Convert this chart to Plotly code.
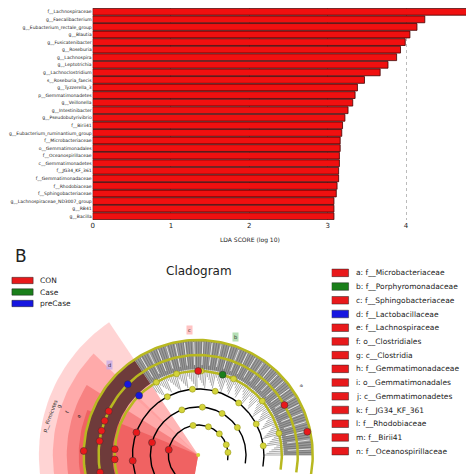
import numpy as np
import plotly.graph_objects as go

# ---- panel A data: LDA scores ----
taxa = ["f__Lachnospiraceae", "g__Faecalibacterium", "g__Eubacterium_rectale_group", "g__Blautia",
        "g__Fusicatenibacter", "g__Roseburia", "g__Lachnospira", "g__Leptotrichia",
        "g__Lachnoclostridium", "s__Roseburia_faecis", "g__Tyzzerella_3", "p__Gemmatimonadetes",
        "g__Veillonella", "g__Intestinibacter", "g__Pseudobutyrivibrio", "f__Birii41",
        "g__Eubacterium_ruminantium_group", "f__Microbacteriaceae", "o__Gemmatimonadales",
        "f__Oceanospirillaceae", "c__Gemmatimonadetes", "f__JG34_KF_361", "f__Gemmatimonadaceae",
        "f__Rhodobiaceae", "f__Sphingobacteriaceae", "g__Lachnospiraceae_ND3007_group",
        "g__RB41", "g__Bacilla"]
lda = [4.87, 4.24, 4.14, 4.05, 3.99, 3.93, 3.88, 3.77, 3.67, 3.47, 3.38, 3.35, 3.32, 3.26,
       3.22, 3.19, 3.18, 3.16, 3.16, 3.15, 3.15, 3.14, 3.14, 3.12, 3.11, 3.08, 3.08, 3.08]

# ---- panel B data: cladogram ----
group_names = ["CON", "Case", "preCase"]
group_colors = ["#e8191b", "#1a7f1a", "#1616e0"]
clade_labels = ["a: f__Microbacteriaceae", "b: f__Porphyromonadaceae", "c: f__Sphingobacteriaceae",
                "d: f__Lactobacillaceae", "e: f__Lachnospiraceae", "f: o__Clostridiales",
                "g: c__Clostridia", "h: f__Gemmatimonadaceae", "i: o__Gemmatimonadales",
                "j: c__Gemmatimonadetes", "k: f__JG34_KF_361", "l: f__Rhodobiaceae",
                "m: f__Birii41", "n: f__Oceanospirillaceae"]
clade_groups = ["CON", "Case", "CON", "preCase", "CON", "CON", "CON", "CON", "CON", "CON",
                "CON", "CON", "CON", "CON"]
ring_radii = [30, 48, 66, 84, 100, 115]
# shaded sectors: start angle, end angle, outer radius, rgba
sector_start = [124, 136, 148, 158, 124]
sector_end = [260, 260, 260, 260, 138]
sector_r = [160, 146, 132, 120, 100]
sector_fill = ["rgba(255,160,160,0.45)", "rgba(255,120,120,0.45)", "rgba(240,90,90,0.5)",
               "rgba(230,60,60,0.45)", "rgba(255,150,150,0.5)"]
# significant nodes: angle (deg), radius, group
node_angle = [135, 135, 73, 90, 170, 165, 160, 176, 183, 172, 166, 190, 160, 154, 185, 30, 12, 178]
node_r = [100, 84, 84, 84, 30, 48, 66, 84, 84, 100, 100, 100, 100, 100, 66, 100, 112, 115]
node_grp = ["preCase", "preCase", "Case", "CON", "CON", "CON", "CON", "CON", "CON", "CON",
            "CON", "CON", "CON", "CON", "CON", "CON", "CON", "CON"]
# plain (non significant) nodes
plain_angle = [100, 70, 45, 20, 5, 110, 85, 60, 35, 118, 95, 75, 52, 28, 8, 120, 105, 88, 65, 40, 15]
plain_r = [30, 30, 30, 30, 30, 48, 48, 48, 48, 66, 66, 66, 66, 66, 66, 84, 84, 84, 84, 84, 84]

cx, cy = 189, 27
gcol = dict(zip(group_names, group_colors))

fig = go.Figure()

# ---- panel A ----
fig.add_trace(go.Bar(x=lda, y=taxa, orientation="h", xaxis="x", yaxis="y",
                     marker=dict(color="#f01010", line=dict(color="#400000", width=0.8)),
                     width=0.9, showlegend=False))


def pol(a, r):
    t = np.radians(a)
    return cx + r * np.cos(t), cy + r * np.sin(t)


# ---- panel B: sectors ----
for a0, a1, r, c in zip(sector_start, sector_end, sector_r, sector_fill):
    t = np.linspace(a0, a1, 60)
    x, y = pol(t, r)
    fig.add_trace(go.Scatter(x=np.r_[cx, x, cx], y=np.r_[cy, y, cy], fill="toself", fillcolor=c,
                             line=dict(width=0), mode="lines", xaxis="x2", yaxis="y2",
                             showlegend=False, hoverinfo="skip"))

# gray leaf band and brown band
for a0, a1, c in [(0, 124, "#9a9a9a"), (124, 260, "#6e3b3b")]:
    t = np.linspace(a0, a1, 80)
    xo, yo = pol(t, 115)
    xi, yi = pol(t[::-1], 86)
    fig.add_trace(go.Scatter(x=np.r_[xo, xi], y=np.r_[yo, yi], fill="toself", fillcolor=c,
                             line=dict(width=0), mode="lines", xaxis="x2", yaxis="y2",
                             showlegend=False, hoverinfo="skip"))

# leaf spokes
leaf = np.arange(0, 124, 1.3)
sx, sy = [], []
for a in leaf:
    x0, y0 = pol(a, 66 + (a % 7) * 2)
    x1, y1 = pol(a, 115)
    sx += [x0, x1, None]
    sy += [y0, y1, None]
fig.add_trace(go.Scatter(x=sx, y=sy, mode="lines", line=dict(color="#555", width=0.5),
                         xaxis="x2", yaxis="y2", showlegend=False, hoverinfo="skip"))
wx, wy = [], []
for a in np.arange(3, 124, 4.7):
    x0, y0 = pol(a, 90)
    x1, y1 = pol(a, 113)
    wx += [x0, x1, None]
    wy += [y0, y1, None]
fig.add_trace(go.Scatter(x=wx, y=wy, mode="lines", line=dict(color="white", width=0.8),
                         xaxis="x2", yaxis="y2", showlegend=False, hoverinfo="skip"))

# rings
for i, r in enumerate(ring_radii):
    t = np.linspace(-10, 260, 200)
    x, y = pol(t, r)
    col = "black" if i < 3 else "#b8b820"
    fig.add_trace(go.Scatter(x=x, y=y, mode="lines", line=dict(color=col, width=1.4 if i < 3 else 2.5),
                             xaxis="x2", yaxis="y2", showlegend=False, hoverinfo="skip"))

# plain nodes
px_, py_ = pol(np.array(plain_angle), np.array(plain_r))
fig.add_trace(go.Scatter(x=px_, y=py_, mode="markers", xaxis="x2", yaxis="y2",
                         marker=dict(color="#d4d43a", size=6, line=dict(color="#8a8a10", width=0.5)),
                         showlegend=False, hoverinfo="skip"))
fig.add_trace(go.Scatter(x=[cx], y=[cy], mode="markers", xaxis="x2", yaxis="y2",
                         marker=dict(color="#d4d43a", size=4), showlegend=False, hoverinfo="skip"))
# significant nodes
nx_, ny_ = pol(np.array(node_angle), np.array(node_r))
fig.add_trace(go.Scatter(x=nx_, y=ny_, mode="markers", xaxis="x2", yaxis="y2",
                         marker=dict(color=[gcol[g] for g in node_grp], size=7,
                                     line=dict(color="#333", width=0.5)),
                         showlegend=False, hoverinfo="skip"))

# group legend (left) and clade legend (right) as bars
fig.add_trace(go.Bar(x=[22] * 3, y=group_names, base=0, orientation="h", xaxis="x3", yaxis="y3",
                     marker=dict(color=group_colors, line=dict(color="#222", width=0.5)),
                     width=0.55, showlegend=False, textposition="none"))
fig.add_trace(go.Bar(x=[17] * 14, y=clade_labels, base=0, orientation="h", xaxis="x4", yaxis="y4",
                     marker=dict(color=[gcol[g] for g in clade_groups], line=dict(color="#222", width=0.5)),
                     width=0.55, showlegend=False))

ax_hide = dict(visible=False, fixedrange=True)
fig.update_layout(
    width=474, height=474, margin=dict(l=0, r=0, t=0, b=0),
    plot_bgcolor="white", paper_bgcolor="white", bargap=0.15,
    font=dict(family="DejaVu Sans", color="#222"),
    xaxis=dict(domain=[83 / 474, 1], range=[0, 4.97], tickvals=[0, 1, 2, 3, 4],
               showgrid=True, gridcolor="#bbb", griddash="dot", zeroline=False,
               tickfont=dict(size=7), anchor="y", showline=False),
    yaxis=dict(domain=[1 - 212 / 474, 1], autorange="reversed", tickfont=dict(size=4.5),
               anchor="x", showgrid=False, ticks=""),
    xaxis2=dict(domain=[0, 320 / 474], range=[0, 320], anchor="y2", **ax_hide),
    yaxis2=dict(domain=[0, 224 / 474], range=[0, 224], anchor="x2", **ax_hide),
    xaxis3=dict(domain=[0, 60 / 474], range=[-2, 60], anchor="y3", **ax_hide),
    yaxis3=dict(domain=[1 - 302 / 474, 1 - 266 / 474], autorange="reversed", anchor="x3", **ax_hide),
    xaxis4=dict(domain=[323 / 474, 1], range=[0, 151], anchor="y4", **ax_hide),
    yaxis4=dict(domain=[1 - 213 / 474 - 0.5 + 0.0, 1 - 258 / 474], autorange="reversed", anchor="x4", **ax_hide),
    annotations=[
        dict(text="LDA SCORE (log 10)", x=241 / 474, y=1 - 232 / 474, xref="paper", yref="paper",
             showarrow=False, font=dict(size=6)),
        dict(text="B", x=3 / 474, y=1 - 248 / 474, xref="paper", yref="paper", showarrow=False,
             xanchor="left", font=dict(size=17)),
        dict(text="Cladogram", x=190 / 474, y=1 - 263 / 474, xref="paper", yref="paper",
             showarrow=False, font=dict(size=12)),
    ] + [dict(text=g, x=27, y=g, xref="x3", yref="y3", xanchor="left", showarrow=False,
              font=dict(size=7.5)) for g in group_names]
      + [dict(text=c, x=22, y=c, xref="x4", yref="y4", xanchor="left", showarrow=False,
              font=dict(size=7.5)) for c in clade_labels]
      + [dict(text=t, x=x, y=y, xref="x2", yref="y2", showarrow=False, font=dict(size=5),
              textangle=ta, bgcolor=bg)
         for t, x, y, ta, bg in [("c", 180, 152, 0, "rgba(255,170,170,0.7)"),
                                 ("b", 226, 145, 0, "rgba(150,210,150,0.7)"),
                                 ("d", 100, 117, 0, "rgba(200,170,230,0.8)"),
                                 ("e", 293, 96, 90, "rgba(0,0,0,0)"),
                                 ("p__Firmicutes", 40, 66, -70, "rgba(0,0,0,0)"),
                                 ("g", 49, 76, -70, "rgba(0,0,0,0)"),
                                 ("f", 57, 70, -70, "rgba(0,0,0,0)"),
                                 ("e", 69, 66, -70, "rgba(0,0,0,0)")]],
)

fig.write_html("out.html")
